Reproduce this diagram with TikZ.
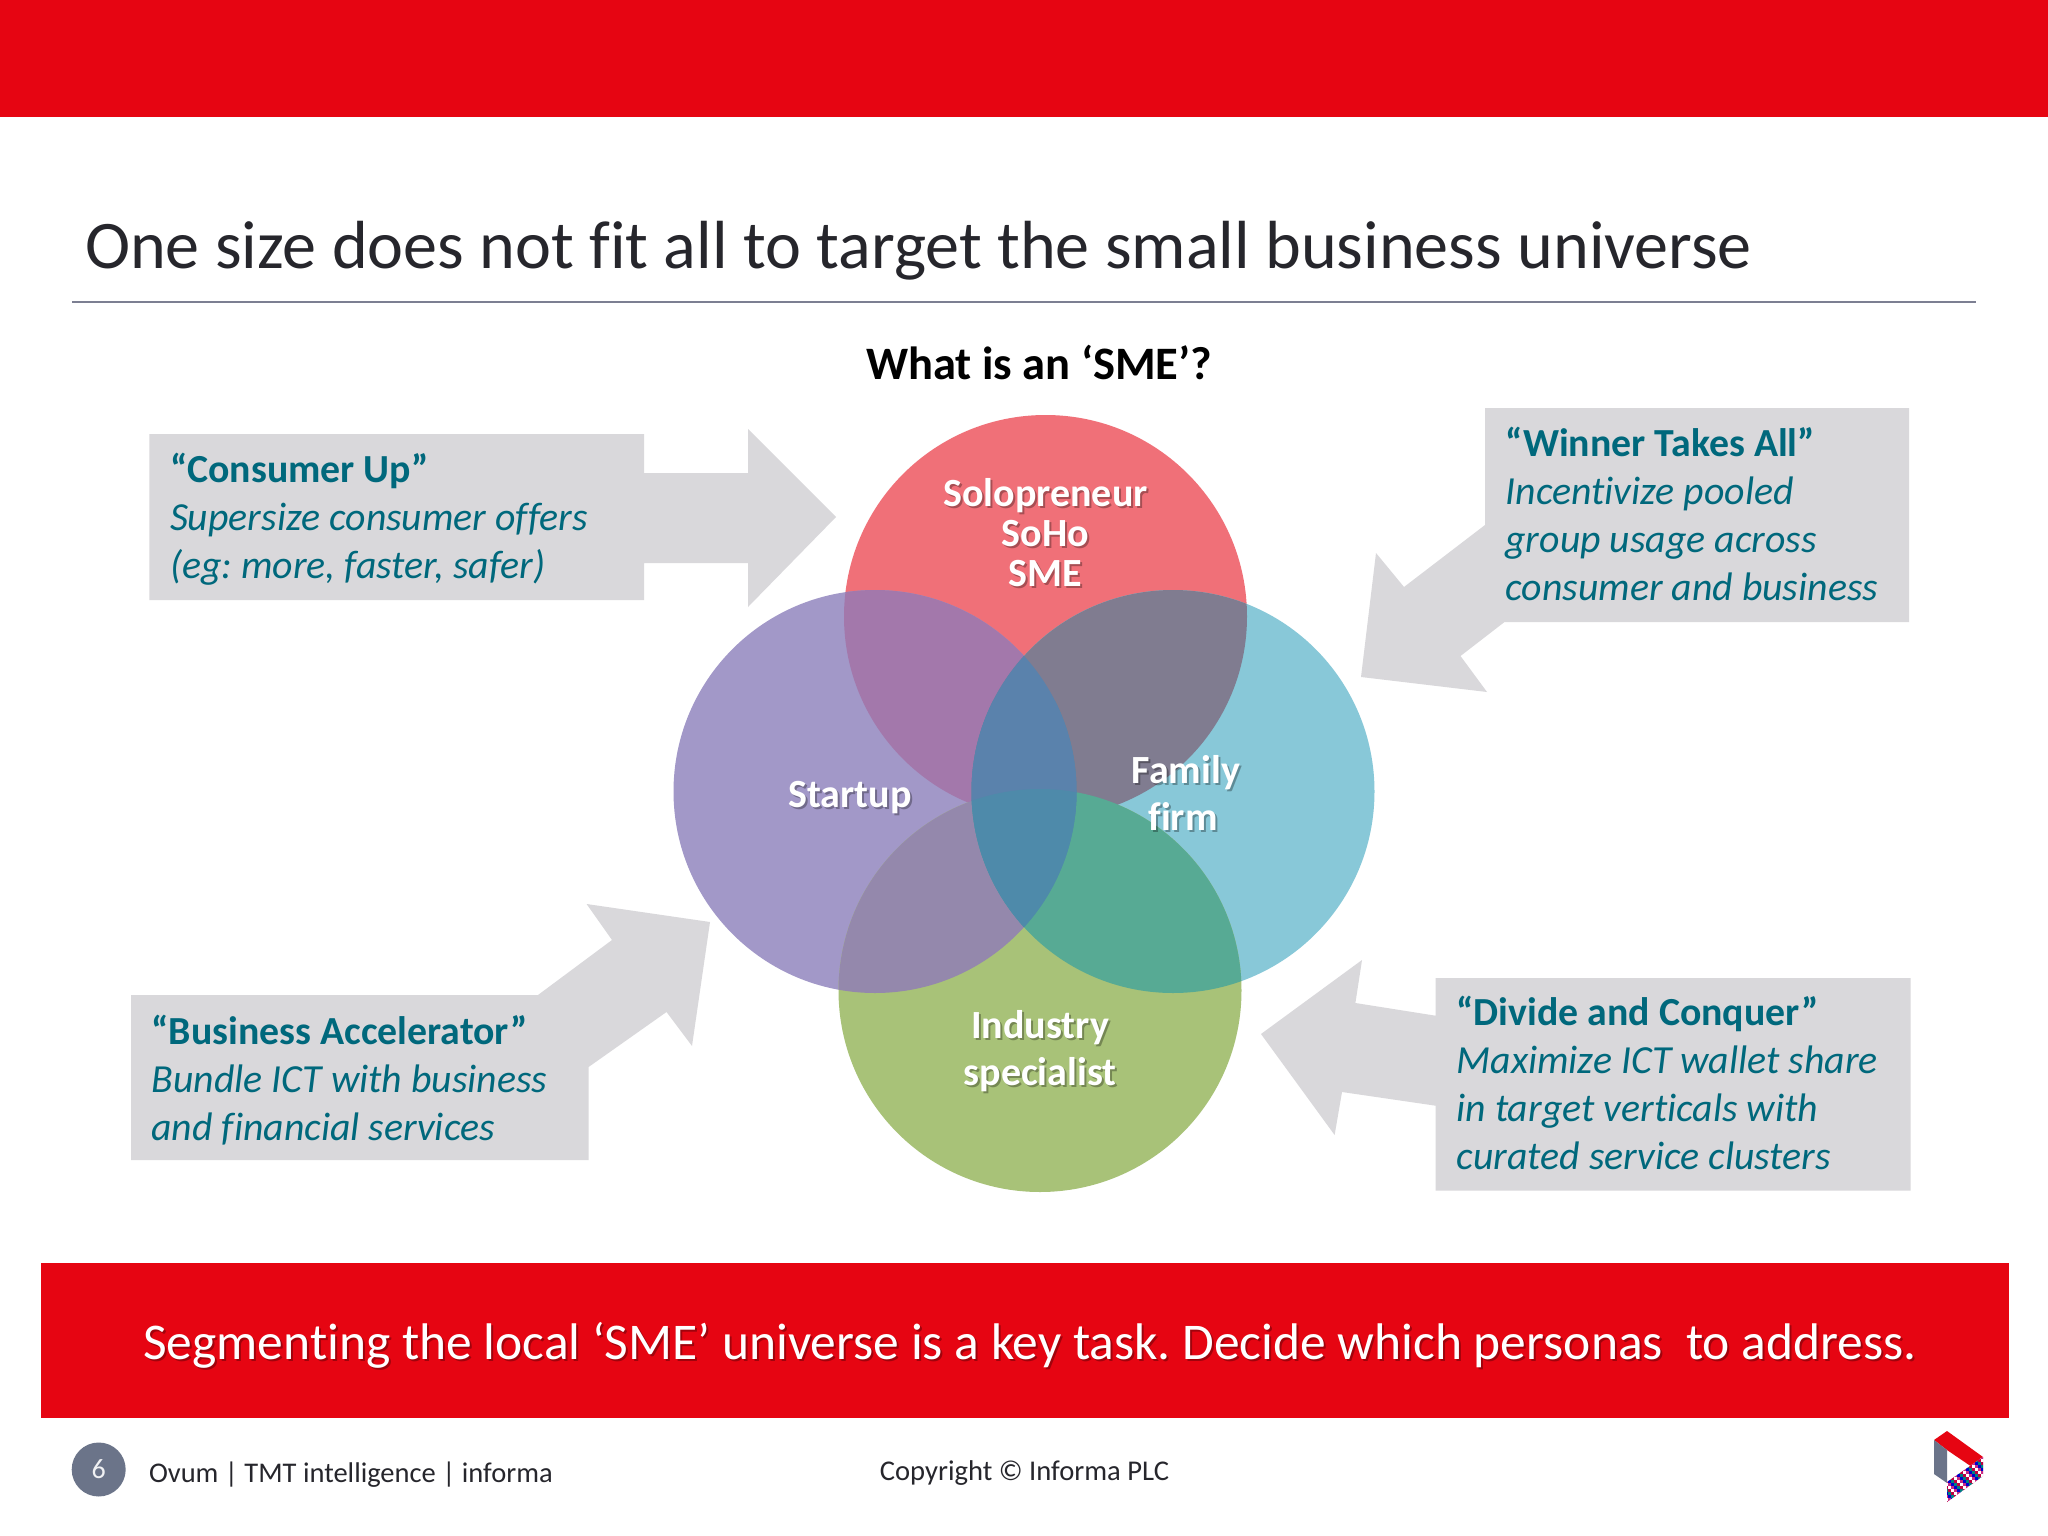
\documentclass[tikz,border=0pt]{standalone}
\usepackage{fontspec}
\setmainfont{Carlito}[Ligatures=CommonOff]
\frenchspacing
\definecolor{brandred}{HTML}{E60512}
\definecolor{boxgray}{HTML}{D9D8DB}
\definecolor{tealtext}{HTML}{00687C}
\definecolor{darktext}{HTML}{26262C}
\definecolor{rulecol}{HTML}{7C7F92}
\definecolor{ctop}{HTML}{F07078}
\definecolor{cleft}{HTML}{A298C8}
\definecolor{cright}{HTML}{88C8D8}
\definecolor{cbottom}{HTML}{A8C278}
\definecolor{ctl}{HTML}{A378AB}
\definecolor{ctr}{HTML}{807C90}
\definecolor{clb}{HTML}{9488AC}
\definecolor{crb}{HTML}{57AA94}
\definecolor{ccup}{HTML}{5A82AC}
\definecolor{cclo}{HTML}{4E8AAA}
\definecolor{logogray}{HTML}{6B7489}
\tikzset{
  x=1pt,y=-1pt,
  plain/.style={inner sep=0pt,outer sep=0pt},
  boxtext/.style={plain,anchor=base west,align=left,text=tealtext,font=\fontsize{39.8}{48}\selectfont},
  venntext/.style={plain,anchor=base,text=white,font=\bfseries\fontsize{40}{40}\selectfont},
  ventshadow/.style={plain,anchor=base,text=black,opacity=0.3,font=\bfseries\fontsize{40}{40}\selectfont},
  bandfill/.style={fill=brandred,draw=none},
  grayshape/.style={fill=boxgray,draw=none},
}
\def\cirT{(1045.5,616.5) circle (201.5)}
\def\cirL{(875,791.5) circle (201.5)}
\def\cirR{(1173,791.5) circle (201.5)}
\def\cirB{(1040,990.5) circle (201.5)}
\begin{document}
\begin{tikzpicture}
\useasboundingbox (0,0) rectangle (2048,1536);
\fill[white] (0,0) rectangle (2048,1536);
% bands
\fill[bandfill] (0,0) rectangle (2048,117);
\fill[bandfill] (41,1263) rectangle (2009,1418);
% title
\node[plain,anchor=base west,text=darktext,font=\fontsize{68.1}{80}\selectfont] (title) at (85,268) {One size does not fit all to target the small business universe};
\draw[rulecol,line width=2pt] (72,302) -- (1976,302);
\node[plain,anchor=base,text=black,font=\bfseries\fontsize{46.5}{54}\selectfont] (what) at (1039,379.5) {What is an ‘SME’?};
% arrows with boxes
\fill[grayshape] (149.3,434) -- (644,434) -- (644,473) -- (748,473) -- (748,429) -- (836,517) -- (748,607) -- (748,563) -- (644,563) -- (644,600) -- (149.3,600) -- cycle;
\fill[grayshape] (1485,408) -- (1909,408) -- (1909,622) -- (1504.5,622) -- (1460.5,656) -- (1487,692) -- (1361,677) -- (1376,553) -- (1404,587) -- (1485,525) -- cycle;
\fill[grayshape] (131,995) -- (538,995) -- (612,940) -- (586.6,904) -- (710,922) -- (692,1046) -- (666.5,1012) -- (588.6,1067) -- (588.6,1160) -- (131,1160) -- cycle;
\fill[grayshape] (1435.6,978) -- (1910.5,978) -- (1910.5,1190.7) -- (1435.6,1190.7) -- (1435.6,1105.7) -- (1342,1092) -- (1334.6,1135) -- (1261,1034) -- (1362,960) -- (1355.4,1003) -- (1435.6,1015.7) -- cycle;
% venn base
\fill[ctop] \cirT;
\fill[cleft] \cirL;
\fill[cright] \cirR;
\fill[cbottom] \cirB;
% overlaps
\begin{scope}\clip \cirT; \fill[ctl] \cirL; \fill[ctr] \cirR; \end{scope}
\begin{scope}\clip \cirB; \fill[clb] \cirL; \fill[crb] \cirR; \end{scope}
\begin{scope}\clip \cirL; \clip \cirR; \fill[cclo] (800,700) rectangle (1250,1000);
  \begin{scope}\clip \cirT; \fill[ccup] (800,400) rectangle (1250,1000); \end{scope}
  \begin{scope}\clip \cirB; \fill[cclo] (800,700) rectangle (1250,1200); \end{scope}
\end{scope}
% venn labels
\node[ventshadow,align=center] (soloS) at (1047.5,588) {Solopreneur\\SoHo\\SME};
\node[venntext,align=center] (solo) at (1045.5,586) {Solopreneur\\SoHo\\SME};
\node[ventshadow] (startS) at (852,809) {Startup};
\node[venntext] (start) at (850,807) {Startup};
\node[ventshadow] (famS) at (1188,785) {Family};
\node[venntext] (fam) at (1186,783) {Family};
\node[ventshadow] (firmS) at (1185,832) {firm};
\node[venntext] (firm) at (1183,830) {firm};
\node[ventshadow] (indS) at (1042,1040) {Industry};
\node[venntext] (ind) at (1040,1038) {Industry};
\node[ventshadow] (specS) at (1042,1087) {specialist};
\node[venntext] (spec) at (1040,1085) {specialist};
% box texts
\node[boxtext] (consumer) at (170,578.5) {\textbf{“Consumer Up”}\\\textit{Supersize consumer offers}\\\textit{(eg: more, faster, safer)}};
\node[boxtext] (winner) at (1505.5,600.5) {\textbf{“Winner Takes All”}\\\textit{Incentivize pooled}\\\textit{group usage across}\\\textit{consumer and business}};
\node[boxtext] (business) at (151.5,1140) {\textbf{“Business Accelerator”}\\\textit{Bundle ICT with business}\\\textit{and financial services}};
\node[boxtext] (divide) at (1456.5,1169.5) {\textbf{“Divide and Conquer”}\\\textit{Maximize ICT wallet share}\\\textit{in target verticals with}\\\textit{curated service clusters}};
% band text
\node[plain,anchor=base,text=black,opacity=0.3,font=\fontsize{51.5}{60}\selectfont] (bandS) at (1032,1361.5) {Segmenting the local ‘SME’ universe is a key task. Decide which personas\ \ to address.};
\node[plain,anchor=base,text=white,font=\fontsize{51.5}{60}\selectfont] (band) at (1030,1359.5) {Segmenting the local ‘SME’ universe is a key task. Decide which personas\ \ to address.};
% footer
\node[circle,fill=logogray,minimum size=54pt,inner sep=0pt,text=white!90!logogray,font=\fontsize{28}{30}\selectfont] (page) at (98.7,1469.5) {6};
\node[plain,anchor=base west,text=darktext,font=\fontsize{28.5}{34}\selectfont] (ovum) at (149,1482) {Ovum | TMT intelligence | informa};
\node[plain,anchor=base,text=darktext,font=\fontsize{28.6}{34}\selectfont] (copy) at (1024.5,1480) {Copyright © Informa PLC};
% logo
\fill[brandred] (1934,1440) -- (1947,1431) -- (1983,1457) -- (1972,1467) -- (1947,1450) -- cycle;
\fill[logogray] (1934,1440) -- (1947,1450) -- (1947,1483) -- (1934,1474) -- cycle;
\begin{scope}
\clip (1983,1457) -- (1983,1476) -- (1947,1502) -- (1947,1482) -- cycle;
\fill[white!70!violet] (1940,1450) rectangle (1990,1510);
\foreach \i in {0,...,13}{
  \foreach \j in {0,...,16}{
    \pgfmathtruncatemacro{\k}{mod(\i*7+\j*13,5)}
    \ifcase\k\relax\def\dc{purple}\or\def\dc{blue!80!black}\or\def\dc{white}\or\def\dc{teal}\or\def\dc{magenta!80!black}\fi
    \fill[\dc] (1945+3*\i,1456+3*\j) rectangle ++(3,3);
  }
}
\end{scope}
\end{tikzpicture}
\end{document}
